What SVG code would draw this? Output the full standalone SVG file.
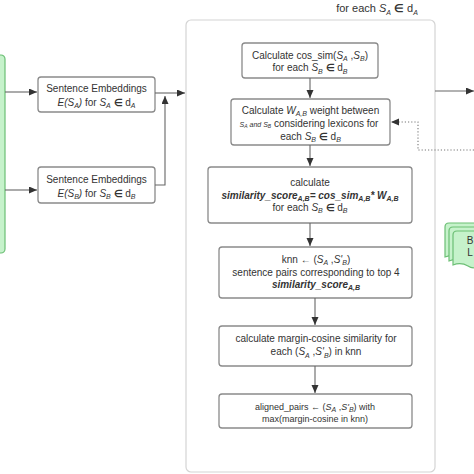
<svg xmlns="http://www.w3.org/2000/svg" width="474" height="474" viewBox="0 0 474 474">
<defs>
<style>
text{font-family:"Liberation Sans",Arial,sans-serif;font-size:10px;fill:#333;text-anchor:middle}
.box{fill:#fff;stroke:#8a8a8a;stroke-width:1.3}
.green{fill:#c6f2cb;stroke:#6cbf75;stroke-width:1.2}
.con{fill:none;stroke:#666;stroke-width:1.1;marker-end:url(#ah)}
.dot{fill:none;stroke:#777;stroke-width:1.1;stroke-dasharray:1.2 2;marker-end:url(#ah)}
.i{font-style:italic}
.b{font-weight:bold;font-style:italic}
.e{font-weight:bold}
.s{font-size:7px}
.sm{font-size:9px}
</style>
<marker id="ah" markerUnits="userSpaceOnUse" markerWidth="8" markerHeight="8" refX="8" refY="3.5" orient="auto">
<path d="M0,0 L8,3.5 L0,7 z" fill="#333"/>
</marker>
</defs>
<rect width="474" height="474" fill="#fff"/>

<g id="title"><text x="377" y="12" style="font-size:11px">for each <tspan class="i">S</tspan><tspan class="s i" dy="2.5">A</tspan><tspan dy="-2.5"> </tspan><tspan class="e">∈</tspan> d<tspan class="s i" dy="2.5">A</tspan></text></g>

<g id="container"><rect x="186" y="20" width="249" height="452" rx="5" fill="none" stroke="#d4d4d4" stroke-width="1.2"/></g>

<g id="source"><rect class="green" x="-10" y="55" width="15" height="198" rx="4"/></g>

<g id="embA">
<rect class="box" x="38" y="77" width="117" height="35" rx="3"/>
<text x="96.5" y="91.5">Sentence Embeddings</text>
<text x="96.5" y="105.5"><tspan class="i">E(S</tspan><tspan class="s i" dy="2.5">A</tspan><tspan class="i" dy="-2.5">)</tspan> for <tspan class="i">S</tspan><tspan class="s i" dy="2.5">A</tspan><tspan dy="-2.5"> </tspan><tspan class="e">∈</tspan> d<tspan class="s i" dy="2.5">A</tspan></text>
</g>

<g id="embB">
<rect class="box" x="38" y="167" width="117" height="36" rx="3"/>
<text x="96.5" y="182.5">Sentence Embeddings</text>
<text x="96.5" y="196.5"><tspan class="i">E(S</tspan><tspan class="s i" dy="2.5">B</tspan><tspan class="i" dy="-2.5">)</tspan> for <tspan class="i">S</tspan><tspan class="s i" dy="2.5">B</tspan><tspan dy="-2.5"> </tspan><tspan class="e">∈</tspan> d<tspan class="s i" dy="2.5">B</tspan></text>
</g>

<g id="cossim">
<rect class="box" x="242" y="43" width="136" height="35" rx="3"/>
<text x="310" y="58.5">Calculate  cos_sim(<tspan class="i">S</tspan><tspan class="s i" dy="2.5">A</tspan><tspan dy="-2.5"> ,</tspan><tspan class="i">S</tspan><tspan class="s i" dy="2.5">B</tspan><tspan dy="-2.5">)</tspan></text>
<text x="310" y="71">for each <tspan class="i">S</tspan><tspan class="s i" dy="2.5">B</tspan><tspan dy="-2.5"> </tspan><tspan class="e">∈</tspan> d<tspan class="s i" dy="2.5">B</tspan></text>
</g>

<g id="weight">
<rect class="box" x="231" y="99" width="159" height="46" rx="3"/>
<text x="310.5" y="113.5">Calculate  <tspan class="i">W</tspan><tspan class="s i" dy="2.5">A,B</tspan><tspan dy="-2.5"> weight between</tspan></text>
<text x="309" y="126.5"><tspan class="s i">S</tspan><tspan class="i" style="font-size:5px" dy="1.5">A</tspan><tspan class="s i" dy="-1.5"> and S</tspan><tspan class="i" style="font-size:5px" dy="1.5">B</tspan><tspan dy="-1.5"> considering lexicons for</tspan></text>
<text x="310.5" y="139.5">each <tspan class="i">S</tspan><tspan class="s i" dy="2.5">B</tspan><tspan dy="-2.5"> </tspan><tspan class="e">∈</tspan> d<tspan class="s i" dy="2.5">B</tspan></text>
</g>

<g id="simscore">
<rect class="box" x="208" y="167" width="204" height="56" rx="3"/>
<text x="310" y="185.5">calculate</text>
<text x="310" y="198.5"><tspan class="b">similarity_score</tspan><tspan class="s b" dy="2.5">A,B</tspan><tspan class="b" dy="-2.5">= cos_sim</tspan><tspan class="s b" dy="2.5">A,B</tspan><tspan class="b" dy="-2.5">* W</tspan><tspan class="s b" dy="2.5">A,B</tspan></text>
<text x="310" y="210.5">for each <tspan class="i">S</tspan><tspan class="s i" dy="2.5">B</tspan><tspan dy="-2.5"> </tspan><tspan class="e">∈</tspan> d<tspan class="s i" dy="2.5">B</tspan></text>
</g>

<g id="knn">
<rect class="box" x="219" y="247" width="193" height="51" rx="3"/>
<text x="316" y="262.5">knn ← (<tspan class="i">S</tspan><tspan class="s i" dy="2.5">A</tspan><tspan dy="-2.5"> ,</tspan><tspan class="i">S'</tspan><tspan class="s i" dy="2.5">B</tspan><tspan dy="-2.5">)</tspan></text>
<text x="316" y="275.5">sentence pairs corresponding to top 4</text>
<text x="316" y="287.5"><tspan class="b">similarity_score</tspan><tspan class="s b" dy="2.5">A,B</tspan></text>
</g>

<g id="margin">
<rect class="box" x="219" y="326" width="193" height="40" rx="3"/>
<text x="316" y="341.5">calculate margin-cosine similarity for</text>
<text x="316" y="355">each (<tspan class="i">S</tspan><tspan class="s i" dy="2.5">A</tspan><tspan dy="-2.5"> ,</tspan><tspan class="i">S'</tspan><tspan class="s i" dy="2.5">B</tspan><tspan dy="-2.5">) in knn</tspan></text>
</g>

<g id="aligned">
<rect class="box" x="219" y="394" width="193" height="34" rx="3"/>
<text class="sm" x="315" y="410">aligned_pairs ← (<tspan class="i">S</tspan><tspan class="s i" dy="2">A</tspan><tspan dy="-2"> ,</tspan><tspan class="i">S'</tspan><tspan class="s i" dy="2">B</tspan><tspan dy="-2">) with</tspan></text>
<text class="sm" x="315" y="421.5">max(margin-cosine in knn)</text>
</g>

<g id="lexicons">
<path class="green" d="M449,223 H480 V257 Q471,262 462,258 Q454,254 445,257 V227 Q445,223 449,223 z"/>
<path class="green" d="M453,227 H480 V261 Q473,266 465,262 Q457,258 449,261 V231 Q449,227 453,227 z"/>
<path class="green" d="M457,231 H480 V265 Q474,270 468,266 Q461,262 453,265 V235 Q453,231 457,231 z"/>
<text x="470" y="243.5">B</text>
<text x="470" y="256">L</text>
</g>

<g id="connectors">
<path class="con" d="M5,92 H37"/>
<path class="con" d="M5,190 H37"/>
<path class="con" d="M155,93 H185"/>
<path class="con" d="M155,185 H165 V96"/>
<path class="con" d="M310,78 V98"/>
<path class="con" d="M310,145 V166"/>
<path class="con" d="M310,223 V246"/>
<path class="con" d="M315,298 V325"/>
<path class="con" d="M315,366 V393"/>
<path class="con" d="M435,91 H474"/>
<path class="dot" d="M474,150 H418 V122 H391"/>
</g>
</svg>
